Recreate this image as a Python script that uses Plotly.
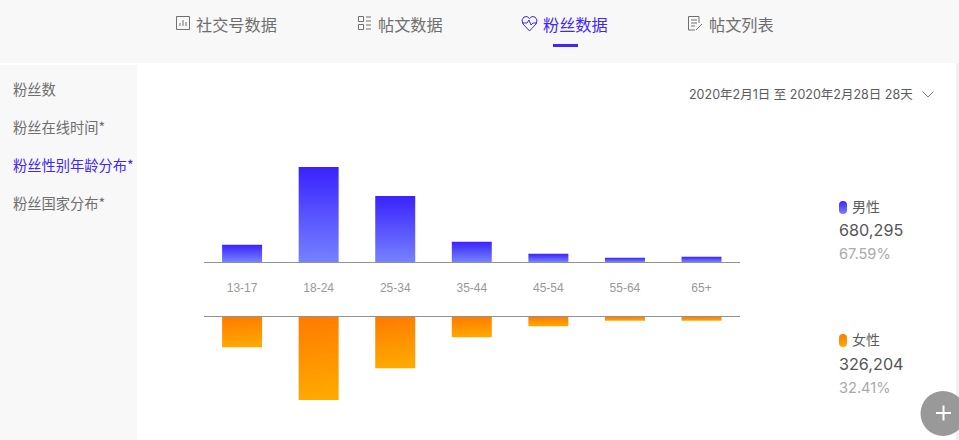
import plotly.graph_objects as go

age_groups = ["13-17", "18-24", "25-34", "35-44", "45-54", "55-64", "65+"]
male_values = [54000, 299000, 208000, 64000, 26000, 13500, 16500]
female_values = [48500, 133000, 82000, 32500, 15000, 6000, 6000]
tabs = ["社交号数据", "帖文数据", "粉丝数据", "帖文列表"]
side_items = ["粉丝数", "粉丝在线时间*", "粉丝性别年龄分布*", "粉丝国家分布*"]
date_label = "2020年2月1日 至 2020年2月28日 28天"
legend_names = ["男性", "女性"]
legend_totals = ["680,295", "326,204"]
legend_shares = ["67.59%", "32.41%"]

W, H = 959, 440
CJK = "Noto Sans CJK SC, Noto Sans, sans-serif"
MIXED = "Inter, Noto Sans CJK SC, sans-serif"
LATIN = "Liberation Sans, Arial, sans-serif"
BLUE = "#3f26ff"


def px(x):
    return x / W


def py(y):
    return 1 - y / H


def rect(x0, y0, x1, y1, fill, layer="below", line=None, lw=0):
    return dict(type="rect", xref="paper", yref="paper", x0=px(x0), x1=px(x1),
                y0=py(y0), y1=py(y1), fillcolor=fill, layer=layer,
                line=dict(color=line or fill, width=lw))


def seg(x0, y0, x1, y1, color, lw=1, layer="below"):
    return dict(type="line", xref="paper", yref="paper", x0=px(x0), x1=px(x1),
                y0=py(y0), y1=py(y1), layer=layer, line=dict(color=color, width=lw))


def poly(points, color, lw=1, fill="rgba(0,0,0,0)", close=False, layer="below"):
    d = "M" + " L".join(f"{px(x):.5f},{py(y):.5f}" for x, y in points) + (" Z" if close else "")
    return dict(type="path", xref="paper", yref="paper", path=d, fillcolor=fill,
                layer=layer, line=dict(color=color, width=lw))


def label(x, y, text, size, color, family=CJK, anchor="left"):
    return dict(xref="paper", yref="paper", x=px(x - 2), y=py(y - 1), text=text, showarrow=False,
                xanchor=anchor, yanchor="middle", align="left",
                font=dict(size=size, color=color, family=family))


fig = go.Figure()
fig.add_trace(go.Bar(x=age_groups, y=male_values, marker=dict(color="#5a50ff", line_width=0),
                     xaxis="x", yaxis="y", showlegend=False))
fig.add_trace(go.Bar(x=age_groups, y=female_values, marker=dict(color="#ff9000", line_width=0),
                     xaxis="x2", yaxis="y2", showlegend=False))

ICON = "#6f7072"
shapes = [
    rect(0, 0, W, 63, "#f8f8f8"),
    rect(0, 65, 137, H, "#f8f8f8"),
    rect(956, 63, W, H, "#eff0f3"),
    rect(553, 44, 578, 47, BLUE),
    # tab icons
    rect(176.5, 16.5, 189.5, 29.5, "rgba(0,0,0,0)", line=ICON, lw=1),
    seg(180, 26, 180, 23, ICON), seg(183, 26, 183, 20, ICON), seg(186, 26, 186, 22, ICON),
    rect(358.5, 16.5, 363.5, 21.5, "rgba(0,0,0,0)", line=ICON, lw=1),
    rect(358.5, 24.5, 363.5, 29.5, "rgba(0,0,0,0)", line=ICON, lw=1),
    seg(366, 17, 371, 17, ICON), seg(366, 21, 371, 21, ICON),
    seg(366, 25, 371, 25, ICON), seg(366, 29, 371, 29, ICON),
    poly([(529.5, 31), (523, 24), (522, 20), (524, 17), (527, 16.5), (529.5, 18.5), (532, 16.5),
          (535, 17), (537, 20), (536, 24)], BLUE, close=True),
    poly([(522, 23), (527, 23), (529, 20), (531, 25), (533, 23), (537, 23)], BLUE),
    poly([(699, 23), (699, 16.5), (688.5, 16.5), (688.5, 30), (695, 30)], ICON),
    seg(691, 20, 697, 20, ICON), seg(691, 23, 697, 23, ICON), seg(691, 26, 695, 26, ICON),
    seg(696, 30, 702, 24, ICON),
    # date dropdown chevron
    poly([(922.5, 91.5), (928, 97), (933.5, 91.5)], "#77787a"),
    # legend chips
    dict(type="rect", xref="paper", yref="paper", x0=px(839), x1=px(847), y0=py(201), y1=py(214),
         fillcolor="rgb(1,2,3)", line_width=0, layer="below"),
    dict(type="rect", xref="paper", yref="paper", x0=px(839), x1=px(847), y0=py(334), y1=py(347),
         fillcolor="rgb(3,2,1)", line_width=0, layer="below"),
    # floating plus button
    dict(type="circle", xref="paper", yref="paper", x0=px(920.5), x1=px(965.5), y0=py(391), y1=py(436),
         fillcolor="#999999", line_width=0, layer="above"),
    seg(936, 413, 951, 413, "#ffffff", 2, "above"),
    seg(943.5, 405.5, 943.5, 420.5, "#ffffff", 2, "above"),
]

annotations = []
tab_x = [196, 378, 543, 709]
for i, (t, x) in enumerate(zip(tabs, tab_x)):
    annotations.append(label(x, 25, t, 16.2, BLUE if i == 2 else "#6e6e6e"))
side_y = [89.5, 128, 165.5, 203.5]
for i, (t, y) in enumerate(zip(side_items, side_y)):
    annotations.append(label(13, y, t, 14.25, BLUE if i == 2 else "#6e6e6e"))
annotations.append(label(689, 95.5, date_label, 12.5, "#5c5c5c", MIXED))
legend_y = [207, 340]
for i, y in enumerate(legend_y):
    annotations.append(label(852, y, legend_names[i], 14, "#5c5c5c"))
    annotations.append(label(839, y + 24.5, legend_totals[i], 16.2, "#555555", MIXED))
    annotations.append(label(839, y + 48.5, legend_shares[i], 14.6, "#aaaaaa", MIXED))

fig.update_layout(
    width=W, height=H, margin=dict(l=0, r=0, t=0, b=0, pad=0),
    paper_bgcolor="#ffffff", plot_bgcolor="rgba(0,0,0,0)",
    bargap=0.478, shapes=shapes, annotations=annotations,
    xaxis=dict(domain=[px(203.8), px(739.8)], anchor="y", type="category", showgrid=False,
               showline=True, linecolor="#8f9397", linewidth=1, ticks="outside", ticklen=15,
               tickcolor="rgba(0,0,0,0)", tickfont=dict(size=12, color="#999999", family=LATIN)),
    yaxis=dict(domain=[py(262), py(167)], anchor="x", range=[0, max(male_values)],
               visible=False),
    xaxis2=dict(domain=[px(203.8), px(739.8)], anchor="y2", side="top", type="category",
                showgrid=False, showline=True, linecolor="#8f9397", linewidth=1,
                showticklabels=False, ticks=""),
    yaxis2=dict(domain=[py(400), py(317)], anchor="x2", range=[max(female_values), 0],
                visible=False),
)

post = """
var gd = document.getElementById('{plot_id}');
document.body.style.margin = '0';
document.documentElement.style.overflow = 'hidden';
function applyGradients() {
  var NS = 'http://www.w3.org/2000/svg';
  var svg = gd.querySelector('svg.main-svg');
  var defs = svg.querySelector('defs') || svg.insertBefore(document.createElementNS(NS, 'defs'), svg.firstChild);
  function grad(id, x2, c0, c1) {
    if (document.getElementById(id)) return;
    var g = document.createElementNS(NS, 'linearGradient');
    g.setAttribute('id', id);
    g.setAttribute('x1', '0'); g.setAttribute('y1', '0');
    g.setAttribute('x2', x2); g.setAttribute('y2', '1');
    [[0, c0], [1, c1]].forEach(function (s) {
      var st = document.createElementNS(NS, 'stop');
      st.setAttribute('offset', s[0]); st.setAttribute('stop-color', s[1]);
      g.appendChild(st);
    });
    defs.appendChild(g);
  }
  grad('gradMale', '0', '#3a22ff', '#7682ff');
  grad('gradFemale', '0.1', '#ff7a00', '#ffa800');
  gd.querySelectorAll('.subplot.xy .bars path').forEach(function (p) { p.style.fill = 'url(#gradMale)'; });
  gd.querySelectorAll('.subplot.x2y2 .bars path').forEach(function (p) { p.style.fill = 'url(#gradFemale)'; });
  function chip(p) {
    var b = p.getBBox();
    var r = document.createElementNS(NS, 'rect');
    r.setAttribute('x', b.x); r.setAttribute('y', b.y);
    r.setAttribute('width', b.width); r.setAttribute('height', b.height);
    r.setAttribute('rx', 4); r.setAttribute('ry', 4);
    r.style.fill = p.style.fill;
    p.parentNode.insertBefore(r, p);
    p.style.display = 'none';
  }
  gd.querySelectorAll('.shapelayer path').forEach(function (p) {
    if (p.style.fill === 'rgb(1, 2, 3)') { p.style.fill = 'url(#gradMale)'; chip(p); }
    if (p.style.fill === 'rgb(3, 2, 1)') { p.style.fill = 'url(#gradFemale)'; chip(p); }
  });
}
applyGradients();
"""

fig.write_html("out.html", config={"displayModeBar": False}, post_script=post)
